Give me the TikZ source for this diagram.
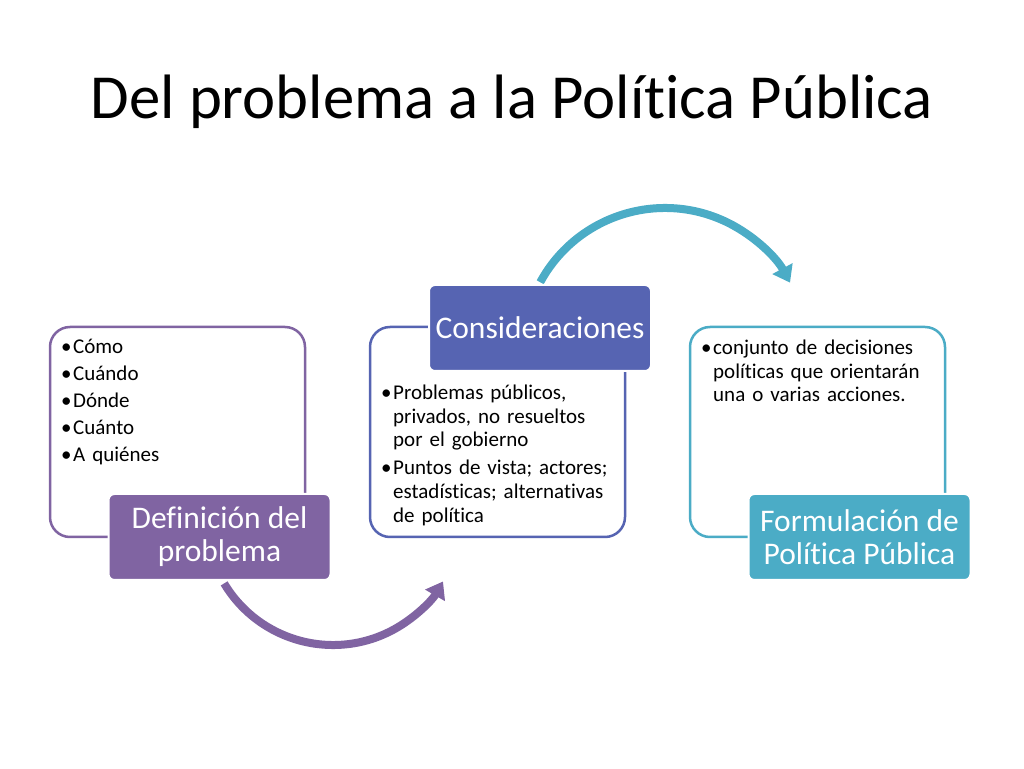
\documentclass[tikz,border=0pt]{standalone}
\usepackage{fontspec}
\setmainfont{Carlito}[Ligatures=NoCommon]
\usetikzlibrary{arrows.meta}
\definecolor{violeta}{RGB}{128,100,162}
\definecolor{azul}{RGB}{86,100,178}
\definecolor{turquesa}{RGB}{75,172,198}
\newcommand{\vineta}[1]{\noindent\makebox[12pt][l]{\textbullet}\begin{tabular}[t]{@{}l@{}}#1\end{tabular}\par}
\tikzset{
  marco/.style={draw=#1, line width=2.5pt, rounded corners=20pt, minimum width=255pt, minimum height=210pt},
  etiqueta/.style={fill=#1, draw=white, line width=2pt, rounded corners=6pt, minimum width=222pt, minimum height=86pt, text=white, align=center, font=\fontsize{31.5}{33}\selectfont},
  vinetas/.style={anchor=north west, inner sep=0pt, text width=#1, align=left, font=\fontsize{21}{23.6}\selectfont\setlength{\parskip}{3.4pt}}
}
\tikzset{flecha/.style={draw=#1, line width=8pt, -{Triangle[width=22pt,length=16pt]}}}
\begin{document}
\begin{tikzpicture}[x=1pt,y=1pt]
  \fill[white] (0,0) rectangle (1024,768);
  \useasboundingbox (0,0) rectangle (1024,768);

  \node[font=\fontsize{62.7}{70}\selectfont] (titulo) at (512,666) {Del problema a la Política Pública};

  \coordinate (c1) at (333,250);
  \coordinate (c2) at (665,418);
  \draw[flecha=violeta] (c1) ++(211:127) arc[start angle=211, end angle=330, radius=127];
  \draw[flecha=turquesa] (c2) ++(151.5:142) arc[start angle=151.5, end angle=28.3, radius=142];

  \node[marco=violeta] (caja1) at (177.5,336) {};
  \node[marco=azul] (caja2) at (497.5,336) {};
  \node[marco=turquesa] (caja3) at (817.5,336) {};

  \node[vinetas=230pt] (lista1) at (61,431) {\vineta{Cómo}\vineta{Cuándo}\vineta{Dónde}\vineta{Cuánto}\vineta{A quiénes}};
  \node[vinetas=235pt] (lista2) at (381,385) {\vineta{Problemas públicos,\\privados, no resueltos\\por el gobierno}\vineta{Puntos de vista; actores;\\estadísticas; alternativas\\de política}};
  \node[vinetas=235pt] (lista3) at (701,430) {\vineta{conjunto de decisiones\\políticas que orientarán\\una o varias acciones.}};

  \node[etiqueta=violeta] (defin) at (219.5,231) {Definición del\\problema};
  \node[etiqueta=azul] (consid) at (540,440) {Consideraciones};
  \node[etiqueta=turquesa] (formul) at (859.5,231) {Formulación de\\Política Pública};
\end{tikzpicture}
\end{document}
